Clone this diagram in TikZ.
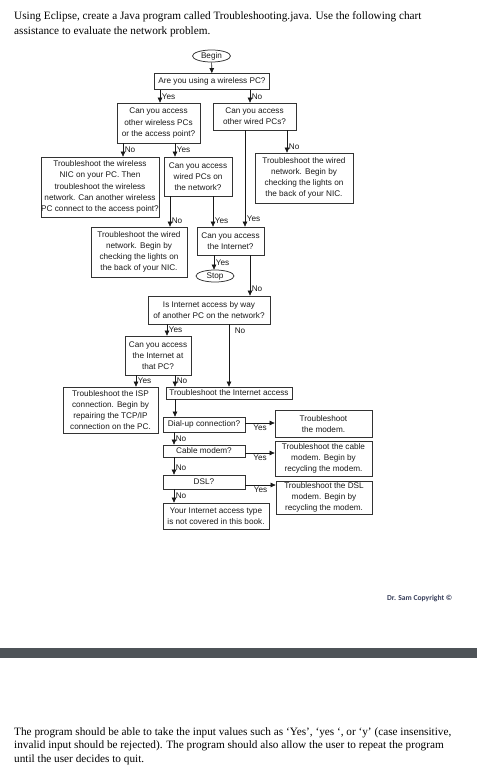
\documentclass[tikz,border=0pt]{standalone}
\usepackage{fontspec}
\setmainfont{Liberation Serif}
\newfontfamily\chartfont{Liberation Sans}
\newfontfamily\copyfont{Carlito}
\usetikzlibrary{arrows.meta, shapes.geometric}
\definecolor{barcolor}{RGB}{78,83,88}
\definecolor{copycolor}{RGB}{55,62,90}

\begin{document}
\begin{tikzpicture}[x=1pt, y=-1pt,
    box/.style={draw=black!80, line width=0.75pt, inner sep=0pt, align=center, text=black!90,
                font=\chartfont\fontsize{8.2}{11.2}\selectfont},
    term/.style={box, ellipse, minimum width=38, minimum height=12},
    arr/.style={-{Triangle[length=5pt,width=4.5pt]}, line width=0.65pt, black!90},
    lbl/.style={font=\chartfont\fontsize{8.2}{10}\selectfont, inner sep=1.5pt, text=black!90},
    para/.style={anchor=base west, font=\fontsize{11.25}{13}\selectfont, inner sep=0pt}]
\useasboundingbox (0,0) rectangle (477,773);

% task text
\node[para] (intro1) at (14,20) {Using Eclipse, create a Java program called Troubleshooting.java. Use the following chart};
\node[para] (intro2) at (14,34.5) {assistance to evaluate the network problem.};

% chart
\node[term] (begin) at (211.5,56) {Begin};
\node[box, minimum width=115, minimum height=16] (wireless) at (212,81.5) {Are you using a wireless PC?};
\node[box, minimum width=83, minimum height=40] (otherwl) at (158.5,123) {Can you access\\other wireless PCs\\or the access point?};
\node[box, minimum width=83, minimum height=27] (otherwd) at (254.5,116.5) {Can you access\\other wired PCs?};
\node[box, minimum width=118, minimum height=60] (fixwl) at (100,187) {Troubleshoot the wireless\\NIC on your PC. Then\\troubleshoot the wireless\\network. Can another wireless\\PC connect to the access point?};
\node[box, minimum width=68, minimum height=39] (wiredpc) at (198,176.5) {Can you access\\wired PCs on\\the network?};
\node[box, minimum width=98, minimum height=50] (fixwd1) at (304,178) {Troubleshoot the wired\\network. Begin by\\checking the lights on\\the back of your NIC.};
\node[box, minimum width=96, minimum height=50] (fixwd2) at (139,252) {Troubleshoot the wired\\network. Begin by\\checking the lights on\\the back of your NIC.};
\node[box, minimum width=67, minimum height=28] (inet) at (230.5,241) {Can you access\\the Internet?};
\node[term] (stop) at (215,276) {Stop};
\node[box, minimum width=122, minimum height=28] (share) at (209,310) {Is Internet access by way\\of another PC on the network?};
\node[box, minimum width=66, minimum height=39] (thatpc) at (158,355.5) {Can you access\\the Internet at\\that PC?};
\node[box, minimum width=95, minimum height=46] (isp) at (110.5,410) {Troubleshoot the ISP\\connection. Begin by\\repairing the TCP/IP\\connection on the PC.};
\node[box, minimum width=126, minimum height=12] (access) at (229,393) {Troubleshoot the Internet access};
\node[box, minimum width=82, minimum height=15] (dialup) at (204,424.5) {Dial-up connection?};
\node[box, minimum width=97, minimum height=27] (fixmodem) at (323.5,424) {Troubleshoot\\the modem.};
\node[box, minimum width=82, minimum height=12] (cable) at (204,451) {Cable modem?};
\node[box, minimum width=97, minimum height=35] (fixcable) at (323.5,458.5) {Troubleshoot the cable\\modem. Begin by\\recycling the modem.};
\node[box, minimum width=82, minimum height=14] (dsl) at (204,482) {DSL?};
\node[box, minimum width=96, minimum height=33] (fixdsl) at (324,497.5) {Troubleshoot the DSL\\modem. Begin by\\recycling the modem.};
\node[box, minimum width=106, minimum height=26] (other) at (216,516) {Your Internet access type\\is not covered in this book.};

\draw[arr] (begin) -- (wireless);
\draw[arr] ([xshift=-52]wireless.south) -- ([xshift=-52]wireless.south |- otherwl.north) node[lbl, midway, right] {Yes};
\draw[arr] ([xshift=38]wireless.south) -- ([xshift=38]wireless.south |- otherwd.north) node[lbl, midway, right] {No};
\draw[arr] ([xshift=-35.5]otherwl.south) -- ([xshift=-35.5]otherwl.south |- fixwl.north) node[lbl, midway, right] {No};
\draw[arr] ([xshift=16.5]otherwl.south) -- ([xshift=16.5]otherwl.south |- wiredpc.north) node[lbl, midway, right] {Yes};
\draw[arr] ([xshift=32.5]otherwd.south) -- ([xshift=32.5]otherwd.south |- fixwd1.north) node[lbl, pos=0.72, right] {No};
\draw[arr] ([xshift=-9.5]otherwd.south) -- ([xshift=-9.5]otherwd.south |- inet.north) node[lbl, pos=0.92, right] {Yes};
\draw[arr] ([xshift=-28]wiredpc.south) -- ([xshift=-28]wiredpc.south |- fixwd2.north) node[lbl, pos=0.8, right] {No};
\draw[arr] ([xshift=15]wiredpc.south) -- ([xshift=15]wiredpc.south |- inet.north) node[lbl, pos=0.8, right] {Yes};
\draw[arr] ([xshift=-16.5]inet.south) -- ([xshift=-16.5]inet.south |- stop.north) node[lbl, midway, right] {Yes};
\draw[arr] ([xshift=19.5]inet.south) -- ([xshift=19.5]inet.south |- share.north) node[lbl, pos=0.82, right] {No};
\draw[arr] ([xshift=-42]share.south) -- ([xshift=-42]share.south |- thatpc.north) node[lbl, midway, right] {Yes};
\draw[arr] ([xshift=20]share.south) -- (access.north) node[lbl, pos=0.1, right=4pt] {No};
\draw[arr] ([xshift=-22]thatpc.south) -- ([xshift=-22]thatpc.south |- isp.north) node[lbl, midway, right] {Yes};
\draw[arr] ([xshift=17]thatpc.south) -- ([xshift=17]thatpc.south |- access.north) node[lbl, midway, right] {No};
\draw[arr] ([xshift=-54]access.south) -- ([xshift=-54]access.south |- dialup.north);
\draw[arr] ([xshift=-30]dialup.south) -- ([xshift=-30]dialup.south |- cable.north) node[lbl, midway, right] {No};
\draw[arr] ([xshift=-30]cable.south) -- ([xshift=-30]cable.south |- dsl.north) node[lbl, pos=0.6, right] {No};
\draw[arr] ([xshift=-30]dsl.south) -- ([xshift=-30]dsl.south |- other.north) node[lbl, midway, right] {No};
\draw[arr] ([yshift=1.5]dialup.east) -- ([yshift=1.5]dialup.east -| fixmodem.west) node[lbl, midway, below] {Yes};
\draw[arr] ([yshift=-2]cable.east) -- ([yshift=-2]cable.east -| fixcable.west) node[lbl, midway, below] {Yes};
\draw[arr] ([yshift=-3]dsl.east) -- ([yshift=-3]dsl.east -| fixdsl.west) node[lbl, midway, below] {Yes};

% footer
\node[anchor=west, inner sep=0pt, text=copycolor, font=\copyfont\bfseries\fontsize{7.6}{8}\selectfont] (copy) at (387,598) {Dr. Sam Copyright ©};
\fill[barcolor] (0,648) rectangle (477,658);
\node[para] (task1) at (14,735) {The program should be able to take the input values such as ‘Yes’, ‘yes ‘, or ‘y’ (case insensitive,};
\node[para] (task2) at (14,748.5) {invalid input should be rejected). The program should also allow the user to repeat the program};
\node[para] (task3) at (14,762) {until the user decides to quit.};
\end{tikzpicture}
\end{document}
